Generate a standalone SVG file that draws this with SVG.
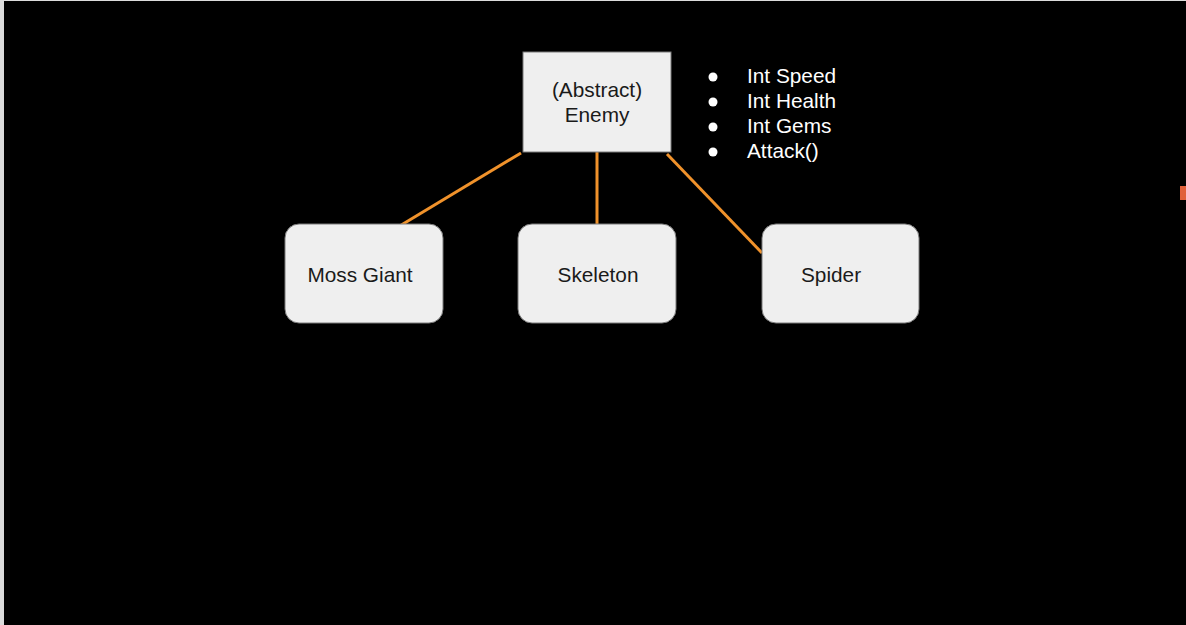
<svg xmlns="http://www.w3.org/2000/svg" width="1186" height="625" viewBox="0 0 1186 625">
<style>
.n{fill:#efefef;stroke:#7a7a7a;stroke-width:1}
.t{font-family:"Liberation Sans",Arial,sans-serif;font-size:20.8px;fill:#1a1a1a;text-anchor:middle}
.b{font-family:"Liberation Sans",Arial,sans-serif;font-size:20.8px;fill:#ffffff}
.c{stroke:#f0922b;stroke-width:3;fill:none}
</style>
<rect width="1186" height="625" fill="#dcdcdc"/>
<rect x="4" y="1" width="1182" height="624" fill="#000"/>
<rect x="1180" y="186" width="6" height="14" fill="#e0603a"/>
<g id="connectors">
<line class="c" x1="521" y1="153" x2="398" y2="227"/>
<line class="c" x1="597" y1="152" x2="597" y2="224"/>
<line class="c" x1="667" y1="154" x2="762" y2="253"/>
</g>
<g id="enemy">
<rect class="n" x="523" y="52" width="148" height="100"/>
<text class="t" x="597" y="97">(Abstract)</text>
<text class="t" x="597" y="122">Enemy</text>
</g>
<g id="props">
<circle cx="713" cy="77" r="4.5" fill="#fff"/><text class="b" x="747" y="83">Int Speed</text>
<circle cx="713" cy="102" r="4.5" fill="#fff"/><text class="b" x="747" y="108">Int Health</text>
<circle cx="713" cy="127" r="4.5" fill="#fff"/><text class="b" x="747" y="133">Int Gems</text>
<circle cx="713" cy="152" r="4.5" fill="#fff"/><text class="b" x="747" y="158">Attack()</text>
</g>
<g id="moss-giant">
<rect class="n" x="285" y="224" width="158" height="99" rx="14"/>
<text class="t" x="360" y="282">Moss Giant</text>
</g>
<g id="skeleton">
<rect class="n" x="518" y="224" width="158" height="99" rx="14"/>
<text class="t" x="598" y="282">Skeleton</text>
</g>
<g id="spider">
<rect class="n" x="762" y="224" width="157" height="99" rx="14"/>
<text class="t" x="831" y="282">Spider</text>
</g>
</svg>
